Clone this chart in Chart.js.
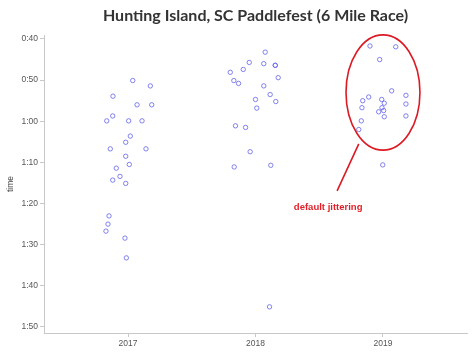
<!DOCTYPE html>
<html>
<head>
<meta charset="utf-8">
<script src="https://cdn.jsdelivr.net/npm/chart.js@4/dist/chart.umd.min.js"></script>
<style>
  html, body { margin: 0; padding: 0; background: #fff; }
  #wrap { width: 474px; height: 355px; }
</style>
</head>
<body>
<div id="wrap"><canvas id="c" width="474" height="355"></canvas></div>
<script>
// ---- data ----
const categories = [2017, 2018, 2019];
const yTickValues = [40, 50, 60, 70, 80, 90, 100, 110];
const yTickLabels = ['0:40', '0:50', '1:00', '1:10', '1:20', '1:30', '1:40', '1:50'];

// finishing times in minutes
const times2017 = [50.1, 51.4, 53.9, 56.0, 56.0, 58.7, 59.9, 59.9, 59.9, 63.6, 65.1, 66.7, 66.7, 68.5, 70.5, 71.4, 73.4, 74.3, 75.1, 83.0, 85.0, 86.7, 88.4, 93.2];
const jitter2017 = [0.037, 0.175, -0.118, 0.071, 0.186, -0.12, -0.167, 0.005, 0.11, 0.018, -0.018, -0.139, 0.141, -0.018, 0.01, -0.092, -0.063, -0.12, -0.018, -0.149, -0.157, -0.173, -0.024, -0.013];

const times2018 = [43.2, 45.7, 46.0, 46.4, 46.4, 48.1, 47.4, 49.4, 50.1, 50.8, 51.4, 53.5, 54.7, 55.2, 56.8, 61.1, 61.5, 67.4, 71.1, 70.7, 105.1];
const jitter2018 = [0.076, -0.049, 0.065, 0.155, 0.155, -0.198, -0.096, 0.178, -0.17, -0.133, 0.065, 0.115, 0.0, 0.159, 0.01, -0.157, -0.078, -0.042, -0.167, 0.12, 0.11];

const times2019 = [41.7, 41.9, 45.0, 52.6, 53.7, 54.1, 55.0, 54.7, 55.6, 55.8, 56.7, 56.7, 57.4, 57.7, 58.9, 58.7, 59.9, 62.0, 70.6];
const jitter2019 = [-0.102, 0.1, -0.026, 0.068, 0.18, -0.112, -0.159, -0.01, 0.01, 0.18, -0.165, -0.008, 0.005, -0.034, 0.01, 0.18, -0.17, -0.19, -0.002];

const annotationText = 'default jittering';
const titleText = 'Hunting Island, SC Paddlefest (6 Mile Race)';
const yAxisTitle = 'time';

// ---- build datasets ----
function pts(year, times, jit) {
  return times.map((t, i) => ({ x: year + jit[i], y: t }));
}
const seriesTimes = [times2017, times2018, times2019];
const seriesJitter = [jitter2017, jitter2018, jitter2019];
const pointColor = 'rgba(100, 100, 235, 0.8)';
const datasets = categories.map((yr, k) => ({
  label: String(yr),
  data: pts(yr, seriesTimes[k], seriesJitter[k]),
  showLine: false,
  pointStyle: 'circle',
  pointRadius: 2.2,
  pointBorderWidth: 1,
  pointBorderColor: pointColor,
  pointBackgroundColor: 'rgba(0,0,0,0)'
}));

// ---- annotation (ellipse, pointer line, label) in data coordinates ----
const annot = {
  ellipse: { cx: 2019.0, cy: 53.0, rx: 0.29, ry: 14.0 },
  line: { x1: 2018.81, y1: 65.5, x2: 2018.64, y2: 76.9 },
  label: { x: 2018.57, y: 80.9 }
};
const annotationPlugin = {
  id: 'annot',
  afterDatasetsDraw(chart) {
    const { ctx, scales: { x, y } } = chart;
    const red = '#dc1a24';
    ctx.save();
    const cx = x.getPixelForValue(annot.ellipse.cx);
    const cy = y.getPixelForValue(annot.ellipse.cy);
    const rx = Math.abs(x.getPixelForValue(annot.ellipse.cx + annot.ellipse.rx) - cx);
    const ry = Math.abs(y.getPixelForValue(annot.ellipse.cy + annot.ellipse.ry) - cy);
    ctx.strokeStyle = red;
    ctx.lineWidth = 1.6;
    ctx.beginPath();
    ctx.ellipse(cx, cy, rx, ry, 0, 0, Math.PI * 2);
    ctx.stroke();
    ctx.beginPath();
    ctx.moveTo(x.getPixelForValue(annot.line.x1), y.getPixelForValue(annot.line.y1));
    ctx.lineTo(x.getPixelForValue(annot.line.x2), y.getPixelForValue(annot.line.y2));
    ctx.stroke();
    ctx.fillStyle = '#e41e28';
    ctx.font = 'bold 9.5px "Liberation Sans", Arial, sans-serif';
    ctx.textAlign = 'center';
    ctx.textBaseline = 'middle';
    ctx.fillText(annotationText, x.getPixelForValue(annot.label.x), y.getPixelForValue(annot.label.y));
    ctx.restore();
  }
};

const axisColor = '#c8c8c8';
const tickFont = { family: '"Liberation Sans", Arial, sans-serif', size: 8.5 };

new Chart(document.getElementById('c'), {
  type: 'scatter',
  data: { datasets },
  options: {
    responsive: false,
    animation: false,
    layout: { padding: { left: 0, right: 7, top: 0, bottom: 0 } },
    plugins: {
      legend: { display: false },
      tooltip: { enabled: false },
      title: {
        display: true,
        text: titleText,
        fullSize: false,
        color: '#333',
        font: { family: 'Lato, "Open Sans", sans-serif', size: 16, weight: 'bold', lineHeight: 1.2 },
        padding: { top: 6, bottom: 9.8 }
      }
    },
    scales: {
      x: {
        type: 'linear',
        min: 2016.341,
        max: 2019.659,
        afterBuildTicks(scale) { scale.ticks = categories.map(v => ({ value: v })); },
        afterFit(scale) { scale.height = 22; },
        grid: { drawOnChartArea: false, drawTicks: true, tickLength: 4, color: axisColor },
        border: { display: true, color: axisColor, width: 1 },
        ticks: {
          color: '#555',
          font: tickFont,
          padding: 2,
          maxRotation: 0,
          callback: (v) => String(v)
        }
      },
      y: {
        type: 'linear',
        reverse: true,
        min: 39.03,
        max: 111.46,
        afterBuildTicks(scale) { scale.ticks = yTickValues.map(v => ({ value: v })); },
        afterFit(scale) { scale.width = 44; },
        grid: { drawOnChartArea: false, drawTicks: true, tickLength: 4, color: axisColor },
        border: { display: true, color: axisColor, width: 1 },
        title: {
          display: true,
          text: yAxisTitle,
          color: '#444',
          font: { family: '"Liberation Sans", Arial, sans-serif', size: 8.5 },
          padding: { top: 6, bottom: 0 }
        },
        ticks: {
          color: '#555',
          font: tickFont,
          padding: 2,
          callback: (v) => {
            const i = yTickValues.indexOf(v);
            return i >= 0 ? yTickLabels[i] : '';
          }
        }
      }
    }
  },
  plugins: [annotationPlugin]
});
</script>
</body>
</html>
